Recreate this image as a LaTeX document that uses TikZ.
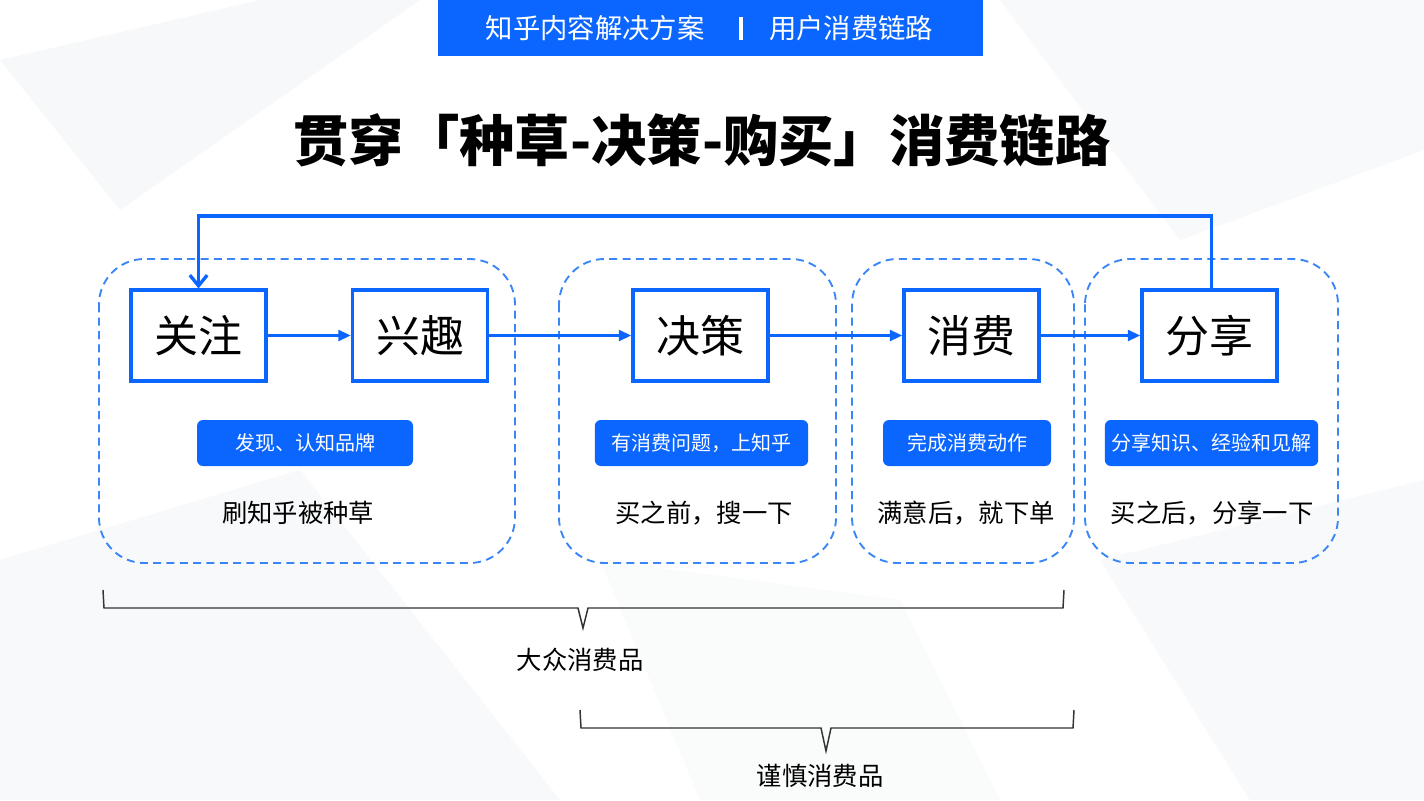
\documentclass[tikz,border=0pt]{standalone}
\usepackage{fontspec}
\setmainfont{Noto Sans CJK SC}
\usetikzlibrary{arrows.meta}
\definecolor{zblue}{HTML}{0A66FF}
\definecolor{dblue}{HTML}{3A86F7}
\definecolor{brk}{HTML}{333333}
\definecolor{shard}{HTML}{F1F2F4}
\begin{document}
\begin{tikzpicture}[x=0.75pt,y=-0.75pt,
  stagebox/.style={draw=zblue,line width=2.6pt,fill=white,minimum width=101pt,minimum height=68pt,inner sep=0pt,font=\fontsize{33}{33}\selectfont},
  pill/.style={fill=zblue,rounded corners=4.5pt,minimum height=34.5pt,inner sep=0pt,text=white,font=\fontsize{15}{15}\selectfont},
  desc/.style={font=\fontsize{19}{19}\selectfont,text=black},
  group/.style={draw=dblue,line width=1.4pt,dash pattern=on 6pt off 4pt,rounded corners=34pt},
  flow/.style={draw=zblue,line width=2.5pt,-{Triangle[length=9.5pt,width=8pt]}},
  brace/.style={draw=brk,line width=1.1pt,line join=miter}]
\useasboundingbox (0,0) rectangle (1424,800);
% background
\fill[white] (0,0) rectangle (1424,800);
\fill[shard,opacity=0.5] (0,60) -- (260,0) -- (420,0) -- (120,210) -- cycle;
\fill[shard,opacity=0.45] (1000,0) -- (1424,0) -- (1424,150) -- (1180,240) -- cycle;
\fill[shard,opacity=0.45] (0,560) -- (300,470) -- (560,800) -- (0,800) -- cycle;
\fill[shard,opacity=0.45] (1100,560) -- (1424,480) -- (1424,800) -- (1250,800) -- cycle;
\fill[shard,opacity=0.3] (600,560) -- (900,600) -- (1000,800) -- (700,800) -- cycle;
% header
\fill[zblue] (438,0) rectangle (983,56);
\node[text=white,font=\fontsize{20.5}{20.5}\selectfont] (h1) at (595,28) {知乎内容解决方案};
\node[text=white,font=\fontsize{20.5}{20.5}\selectfont] (h2) at (851,28) {用户消费链路};
\draw[white,line width=2.4pt] (741,17) -- (741,40);
% title
\node[font=\fontsize{41.5}{41.5}\selectfont\bfseries] (title) at (702,140) {贯穿「种草-决策-购买」消费链路};
% groups
\draw[group] (99,259) rectangle (515,563);
\draw[group] (559,259) rectangle (836,563);
\draw[group] (852,259) rectangle (1074,563);
\draw[group] (1085,259) rectangle (1338,563);
% stage boxes
\node[stagebox] (gz) at (198.5,335.5) {关注};
\node[stagebox] (xq) at (420,335.5) {兴趣};
\node[stagebox] (jc) at (700.5,335.5) {决策};
\node[stagebox] (xf) at (971.5,335.5) {消费};
\node[stagebox] (fx) at (1209.5,335.5) {分享};
% flow arrows
\draw[flow] (gz) -- (xq);
\draw[flow] (xq) -- (jc);
\draw[flow] (jc) -- (xf);
\draw[flow] (xf) -- (fx);
\coordinate (loop) at (700,216);
\draw[draw=zblue,line width=2.5pt,-{Straight Barb[length=8pt,width=13pt,line width=2.5pt]}] ([xshift=1.5pt]fx.north) |- (loop) -| (gz.north);
% pills
\node[pill,minimum width=162pt] (p1) at (305,443) {发现、认知品牌};
\node[pill,minimum width=160pt] (p2) at (701.5,443) {有消费问题，上知乎};
\node[pill,minimum width=126pt] (p3) at (967,443) {完成消费动作};
\node[pill,minimum width=160pt] (p4) at (1211.5,443) {分享知识、经验和见解};
% descriptions
\node[desc] (d1) at (298,513) {刷知乎被种草};
\node[desc] (d2) at (704,513) {买之前，搜一下};
\node[desc] (d3) at (966,513) {满意后，就下单};
\node[desc] (d4) at (1212,513) {买之后，分享一下};
% braces
\draw[brace] (103,590) -- (104,608) -- (578,608) -- (583,628) -- (588,608) -- (1063,608) -- (1064,590);
\node[desc] (b1) at (580,660) {大众消费品};
\draw[brace] (580,710) -- (581,728) -- (821,728) -- (826,751) -- (831,728) -- (1073,728) -- (1074,710);
\node[desc] (b2) at (820,776) {谨慎消费品};
\end{tikzpicture}
\end{document}
